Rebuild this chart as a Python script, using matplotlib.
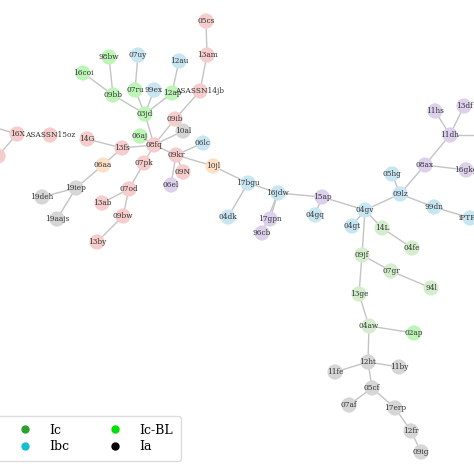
import matplotlib
matplotlib.use("Agg")
import matplotlib.pyplot as plt
from matplotlib.lines import Line2D

plt.rcParams['font.family'] = ['DejaVu Serif']

nodes = {
 '05cs':(206,21,'IIn'),'13am':(207,55,'IIn'),'ASASSN14jb':(200,91,'IIn'),'12au':(179,61,'Ibc'),
 '07uy':(138,55,'Ibc'),'98bw':(109,57,'Ic-BL'),'16coi':(83,73,'Ic-BL'),'07ru':(135,90,'Ic-BL'),
 '99ex':(154,90,'Ibc'),'12ap':(172,93,'Ic-BL'),'09bb':(113,95,'Ic-BL'),'03jd':(145,114,'Ic-BL'),
 '09ib':(175,119,'IIn'),'10al':(183,131,'Ia'),'06aj':(140,136,'Ic-BL'),'08fq':(154,145,'IIn'),
 '06lc':(203,143,'Ibc'),'09kr':(176,155,'IIn'),'13fs':(122,148,'IIn'),'14G':(87,139,'IIn'),
 'ASASSN15oz':(50,135,'IIn'),'16X':(17,134,'IIn'),'ej':(-2,156,'IIn'),'06aa':(103,165,'Ibn'),
 '07pk':(144,163,'IIn'),'09N':(183,172,'IIn'),'06el':(171,185,'IIb'),'10jl':(213,166,'Ibn'),
 '07od':(129,189,'IIn'),'19iep':(76,188,'Ia'),'19deh':(42,197,'Ia'),'19aajs':(57,219,'Ia'),
 '13ab':(102,203,'IIn'),'09bw':(123,216,'IIn'),'13by':(97,242,'IIn'),
 '11hs':(435,111,'IIb'),'13df':(464,106,'IIb'),'11dh':(450,135,'IIb'),'16gkg':(466,170,'IIb'),
 '08ax':(425,165,'IIb'),'05hg':(392,174,'Ibc'),'09lz':(400,194,'Ibc'),'99dn':(434,207,'Ibc'),
 'iPTF1':(470,218,'Ibc'),'04gv':(365,210,'Ibc'),'15ap':(322,197,'IIb'),'16jdw':(278,193,'Ibc'),
 '17bgu':(248,183,'Ibc'),'04dk':(228,217,'Ibc'),'17gpn':(270,219,'IIb'),'96cb':(262,233,'IIb'),
 '04gq':(315,215,'Ibc'),'04gt':(352,226,'Ibc'),'14L':(382,228,'Ic'),'04fe':(412,248,'Ic'),
 '09jf':(362,255,'Ic'),'07gr':(391,271,'Ic'),'94l':(431,288,'Ic'),'13ge':(359,294,'Ic'),
 '04aw':(369,326,'Ic'),'02ap':(414,333,'Ic-BL'),'12ht':(368,362,'Ia'),'11by':(399,367,'Ia'),
 '11fe':(335,372,'Ia'),'05cf':(372,388,'Ia'),'07af':(349,405,'Ia'),'17erp':(395,408,'Ia'),
 '12fr':(411,431,'Ia'),'09ig':(421,452,'Ia'),
}
edges = [('05cs','13am'),('13am','ASASSN14jb'),('ASASSN14jb','09ib'),('09ib','08fq'),
 ('12au','12ap'),('12ap','03jd'),('99ex','03jd'),('07uy','07ru'),('07ru','03jd'),
 ('98bw','09bb'),('16coi','09bb'),('09bb','03jd'),('03jd','08fq'),('06aj','08fq'),
 ('10al','08fq'),('08fq','13fs'),('13fs','14G'),('16X','ej'),('13fs','06aa'),
 ('06aa','19iep'),('19iep','19deh'),('19iep','19aajs'),('08fq','09kr'),('09kr','06lc'),
 ('09kr','09N'),('09kr','06el'),('09kr','10jl'),('08fq','07pk'),('07pk','07od'),
 ('07od','13ab'),('07od','09bw'),('09bw','13by'),('10jl','17bgu'),('17bgu','04dk'),
 ('17bgu','16jdw'),('16jdw','17gpn'),('16jdw','96cb'),('16jdw','15ap'),('15ap','04gq'),
 ('15ap','04gv'),('04gv','04gt'),('04gv','09lz'),('09lz','05hg'),('09lz','08ax'),
 ('08ax','11dh'),('08ax','16gkg'),('11dh','11hs'),('11dh','13df'),('09lz','99dn'),
 ('99dn','iPTF1'),('04gv','14L'),('14L','04fe'),('04gv','09jf'),('09jf','07gr'),
 ('07gr','94l'),('09jf','13ge'),('13ge','04aw'),('04aw','02ap'),('04aw','12ht'),
 ('12ht','11by'),('12ht','11fe'),('12ht','05cf'),('05cf','07af'),('05cf','17erp'),
 ('17erp','12fr'),('12fr','09ig')]
extra_edges = [((17,134),(-10,126)),((450,135),(480,135))]

colors = {'Ibn':'#ff7f0e','IIn':'#d62728','Ic':'#2ca02c',
          'Ibc':'#17becf','Ic-BL':'#00e000','Ia':'#000000'}
node_colors = {'IIb':'#ddd0ec','Ibn':'#fde0c6','IIn':'#f7cccc','Ic':'#d4eecd',
               'Ibc':'#c8e6f2','Ic-BL':'#bdf5b6','Ia':'#d6d6d6'}

fig = plt.figure(figsize=(4.74,4.74), dpi=100)
ax = fig.add_axes([0,0,1,1])
ax.set_xlim(0,474); ax.set_ylim(474,0); ax.axis('off')

for a,b in edges:
    ax.plot([nodes[a][0],nodes[b][0]],[nodes[a][1],nodes[b][1]],color='#c4c4c4',lw=1,zorder=1)
for p,q in extra_edges:
    ax.plot([p[0],q[0]],[p[1],q[1]],color='#c4c4c4',lw=1,zorder=1)
for name,(x,y,t) in nodes.items():
    ax.scatter(x,y,s=120,color=node_colors[t],edgecolors='none',zorder=2)
    ax.text(x,y,name,fontsize=5.3,ha='center',va='center',zorder=3,color='#333333')

order = ['Ibn','IIn','Ic','Ibc','Ic-BL','Ia']
handles = [Line2D([],[],marker='o',ls='',color=colors[k],markersize=5) for k in order]
ax.legend(handles,order,ncol=3,loc='lower right',bbox_to_anchor=(187/474,7/474),
          fontsize=9,frameon=True,framealpha=1,edgecolor='#dddddd',handletextpad=1.0,
          columnspacing=2.6,borderpad=0.6,labelspacing=0.3)
fig.savefig('out.png',dpi=100)
